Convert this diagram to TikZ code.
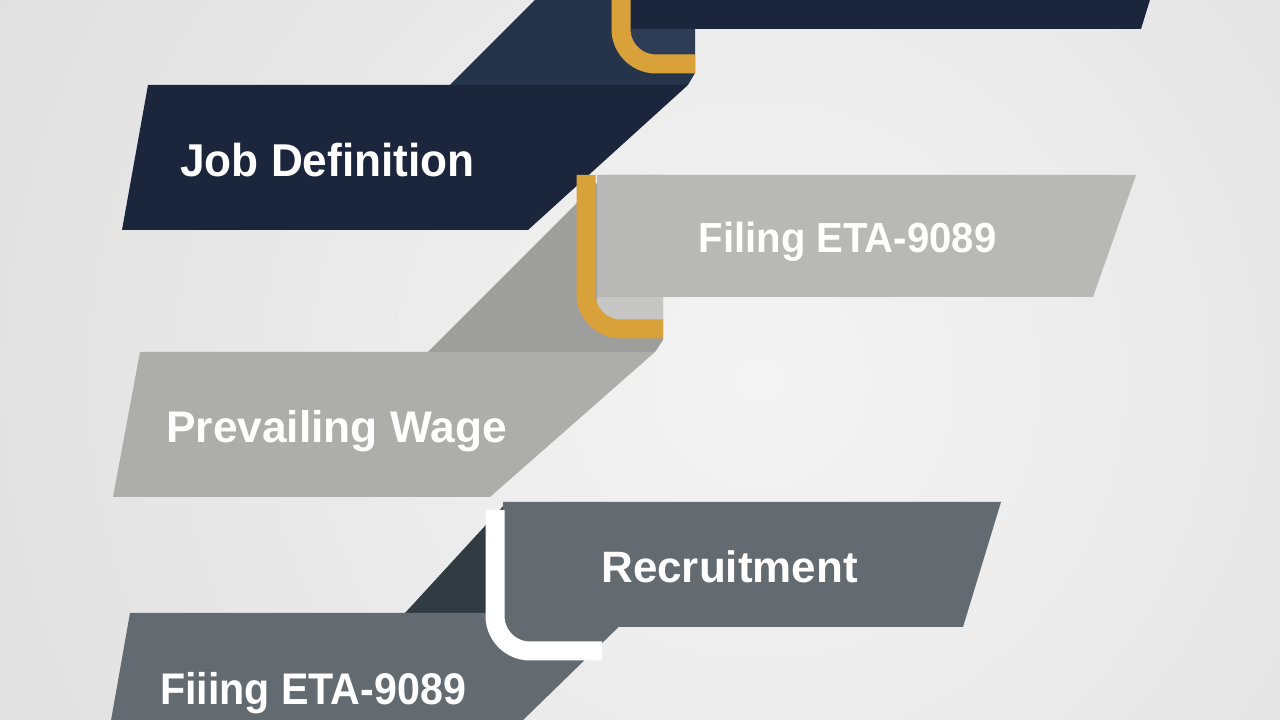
\documentclass[tikz,border=0pt]{standalone}
\usepackage{fontspec}
\setsansfont{Liberation Sans}
\usepackage{tikz}
\usepackage{tkz-euclide}

\definecolor{bgin}{HTML}{F4F4F4}
\definecolor{bgout}{HTML}{CFCFCF}
\definecolor{navyband}{HTML}{1B263D}
\definecolor{navyrib}{HTML}{25344B}
\definecolor{navytab}{HTML}{2E3D55}
\definecolor{linkgold}{HTML}{D9A13A}
\definecolor{lightband}{HTML}{B8B8B6}
\definecolor{lightband2}{HTML}{ADADAB}
\definecolor{lightrib}{HTML}{9E9E9C}
\definecolor{lighttab}{HTML}{C6C6C4}
\definecolor{darkband}{HTML}{646B70}
\definecolor{darkrib}{HTML}{303B42}
\definecolor{darktab}{HTML}{5A6166}

% písmo popisků: velikost a zúžení
\newcommand{\stepfont}[2]{\sffamily\bfseries\fontsize{#1}{#1}\selectfont\addfontfeature{FakeStretch=#2}}

\tikzset{
  steptext/.style={text=white, inner sep=0pt, anchor=base},
  goldlink/.style={draw=linkgold, line width=0.19cm, rounded corners=0.35cm},
  whitelink/.style={goldlink, draw=white}
}

\begin{document}
\begin{tikzpicture}
  % --- POZADÍ ---
  \useasboundingbox (0,0) rectangle (12.8,7.2);
  \clip (0,0) rectangle (12.8,7.2);
  \fill[bgout] (0,0) rectangle (12.8,7.2);
  \fill[inner color=bgin, outer color=bgout] (7.6,3.4) circle (16);

  % --- KROK 1: horní pás a Job Definition ---
  \tkzDefPoint(6.31,7.40){A1} \tkzDefPoint(11.56,7.40){A2}
  \tkzDefPoint(11.41,6.91){A3} \tkzDefPoint(6.31,6.91){A4}
  % šikmá spojka
  \tkzDefPoint(4.50,6.35){R1} \tkzDefPoint(5.40,7.25){R2}
  \tkzDefPoint(6.95,7.25){R3} \tkzDefPoint(6.95,6.47){R4}
  \tkzDefPoint(6.88,6.35){R5}
  \fill[navyrib] (R1) -- (R2) -- (R3) -- (R4) -- (R5) -- cycle;
  \fill[navytab] (A4) rectangle (6.95,6.56);
  \fill[navyband] (A1) -- (A2) -- (A3) -- (A4) -- cycle;

  \tkzDefPoint(1.48,6.35){J1} \tkzDefPoint(6.88,6.35){J2}
  \tkzDefPoint(5.28,4.90){J3} \tkzDefPoint(1.22,4.90){J4}
  \fill[navyband] (J1) -- (J2) -- (J3) -- (J4) -- cycle;

  \tkzDefPoint(6.21,7.30){G1} \tkzDefPoint(6.95,6.56){H1}
  \draw[goldlink] (G1) |- (H1);

  % --- KROK 2: Filing ETA-9089 a Prevailing Wage ---
  \tkzDefPoint(4.28,3.68){S1} \tkzDefPoint(6.05,5.45){S2}
  \tkzDefPoint(6.63,5.45){S3} \tkzDefPoint(6.63,3.80){S4}
  \tkzDefPoint(6.55,3.68){S5}
  \fill[lightrib] (S1) -- (S2) -- (S3) -- (S4) -- (S5) -- cycle;

  \tkzDefPoint(5.97,5.45){F1} \tkzDefPoint(11.36,5.45){F2}
  \tkzDefPoint(10.93,4.23){F3} \tkzDefPoint(5.97,4.23){F4}
  \fill[lighttab] (F4) rectangle (6.63,3.91);
  \fill[lightband] (F1) -- (F2) -- (F3) -- (F4) -- cycle;

  \tkzDefPoint(1.40,3.68){P1} \tkzDefPoint(6.55,3.68){P2}
  \tkzDefPoint(4.90,2.23){P3} \tkzDefPoint(1.13,2.23){P4}
  \fill[lightband2] (P1) -- (P2) -- (P3) -- (P4) -- cycle;

  \tkzDefPoint(5.86,5.45){G2} \tkzDefPoint(6.63,3.91){H2}
  \draw[goldlink] (G2) |- (H2);

  % --- KROK 3: Recruitment a Fiiing ETA-9089 ---
  \tkzDefPoint(4.05,1.07){D1} \tkzDefPoint(5.07,2.18){D2}
  \tkzDefPoint(5.07,1.07){D3}
  \fill[darkrib] (D1) -- (D2) -- (D3) -- cycle;

  \tkzDefPoint(5.03,2.18){C1} \tkzDefPoint(10.01,2.18){C2}
  \tkzDefPoint(9.63,0.93){C3} \tkzDefPoint(5.03,0.93){C4}
  \fill[darktab] (C4) rectangle (6.02,0.69);
  \fill[darkband] (C1) -- (C2) -- (C3) -- (C4) -- cycle;

  \tkzDefPoint(1.30,1.07){B1} \tkzDefPoint(6.33,1.07){B2}
  \tkzDefPoint(4.82,-0.40){B3} \tkzDefPoint(1.04,-0.40){B4}
  \fill[darkband] (B1) -- (B2) -- (B3) -- (B4) -- cycle;

  \tkzDefPoint(4.95,2.10){W1} \tkzDefPoint(6.02,0.69){W2}
  \draw[whitelink] (W1) |- (W2);

  % --- POPISKY ---
  \node[steptext, font=\stepfont{13.1}{0.96}] (jobdef) at (3.275,5.43) {Job Definition};
  \node[steptext, font=\stepfont{11.95}{0.955}] (filing) at (8.475,4.67) {Filing ETA-9089};
  \node[steptext, font=\stepfont{12.6}{1}] (wage) at (3.365,2.77) {Prevailing Wage};
  \node[steptext, font=\stepfont{12.5}{1}] (recruit) at (7.295,1.37) {Recruitment};
  \node[steptext, font=\stepfont{12.6}{0.93}] (filing2) at (3.13,0.15) {Fiiing ETA-9089};
\end{tikzpicture}
\end{document}
